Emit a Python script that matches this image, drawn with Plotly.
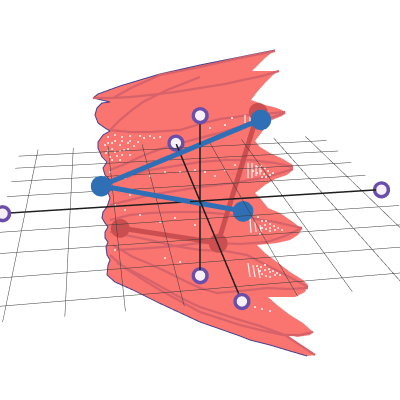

import plotly.graph_objects as go, numpy as np

# ground grid and axes, in data units
axis_half_x = 2.02
axis_half_y = 1.59
axis_lean = 0.08
z_top, z_bottom = 0.95, -1.0
grid_steps = [-4, -3, -2, -1, 0, 1, 2, 3, 4]

# blue polyline and markers, in data units
blue_x = [0.60, -1.01, 0.47]
blue_y = [0.0, 0.0, 0.0]
blue_z = [0.88, 0.25, -0.16]

# the surface and what lies on it, read on a sheet facing the viewer
surface_u = [-107,-102,-80,-40,0,40,75,65,52,79,73,65,57,51,57,65,77,86,82,72,65,58,55,60,70,83,93,93,87,75,65,55,60,68,80,93,102,98,90,77,57,65,77,90,103,108,105,95,80,68,77,90,103,113,110,97,85,95,105,115,107,90,70,50,40,0,-43,-67,-85,-93,-92,-90,-93,-94,-92,-95,-95,-92,-95,-98,-97,-93,-90,-94,-90,-95,-97,-93,-98,-102,-102,-97,-90,-95,-102,-105,-103,-98,-90]
surface_v = [103,107,115,127,136,144,151,143,130,130,126,118,109,101,99,96,93,89,85,81,73,64,60,54,48,42,36,31,26,22,16,8,3,-7,-12,-21,-28,-34,-39,-42,-44,-52,-61,-71,-79,-84,-91,-96,-96,-96,-104,-114,-122,-131,-134,-136,-133,-141,-147,-154,-155,-150,-144,-139,-135,-121,-101,-89,-81,-74,-64,-59,-54,-46,-41,-37,-31,-26,-22,-17,-11,-6,3,14,21,26,33,39,44,53,59,66,70,73,78,86,93,98,99]
bands_u = [
 [-107,-87,-70,-50,-25,0,25,43,62,79],
 [-87,-67,-40,0,40,75],
 [-90,-80,-68,-57,-45,-33,-15,0],
 [-90,-70,-50,-20,0,20,50,85],
 [85,70,53,23,0,-27,-45,-60,-75,-90],
 [93,75,50,25,0,-25,-50,-70,-90],
 [93,80,67,33,0,-25,-50,-70,-90],
 [-90,-70,-50,-25,0,25,50,75,102],
 [102,85,67,40,17,0,-25,-50,-83],
 [108,78,47,25,0,-25,-50,-70,-90],
 [108,88,67,40,17,0,-15,-33,-50,-67,-87],
 [113,100,83,60,40,0,-20,-40,-58,-75,-90],
 [115,100,85,60,40,0,-17,-33,-60,-83],
]
bands_v = [
 [103,103,104,106,109,113,117,121,125,130],
 [103,114,126,134,143,150],
 [71,81,91,99,105,111,118,124],
 [71,69,69,71,77,82,86,89],
 [88,83,78,69,63,56,50,44,37,31],
 [34,38,41,41,39,35,31,25,18],
 [32,28,24,18,14,10,6,1,-4],
 [-19,-14,-12,-11,-11,-13,-17,-21,-27],
 [-27,-35,-41,-43,-42,-42,-45,-47,-49],
 [-86,-70,-54,-50,-49,-45,-39,-35,-31],
 [-87,-88,-87,-90,-92,-87,-80,-71,-63,-56,-44],
 [-131,-134,-134,-129,-124,-111,-100,-89,-78,-67,-54],
 [-154,-144,-134,-125,-119,-106,-98,-89,-74,-62],
]
stripes_u = [[45,45],[50,50],[48,48],[52,52],[56,56],[60,60],[50,51],[55,56],[60,61],[48,50],[53,55],[58,60]]
stripes_v = [[86,78],[86,78],[38,23],[38,23],[36,25],[34,26],[-17,-32],[-21,-31],[-24,-31],[-62,-76],[-64,-76],[-67,-77]]
specks_u = [-92,-85,-78,-70,-60,-50,-95,-88,-80,-72,-62,-94,-85,-76,-88,-80,-90,-83,-75,-65,-50,-35,-20,-5,-88,-80,-70,-85,-75,-60,-40,-25,-5,-35,-20,-85,5,15,25,35,40,65,70,75,65,70,75,55,62,70,25,10,32,
 53,57,61,64,68,57,61,65,70,73,62,66,58,62,66,70,74,62,66,70,78,82,60,57,61,65,69,73,62,66,70,77,80,60,-92,-85,-78,-70,-92,-88,-80,-72,-66,-90,-83,-78,-70,-56,-46,-40]
specks_v = [64,66,64,65,65,65,56,58,56,58,59,48,49,51,41,41,29,21,23,31,25,29,29,31,13,11,6,-4,-9,-14,-21,-17,-24,-57,-61,-49,29,25,31,36,26,-24,-27,-29,-69,-71,-74,-106,-108,-110,76,73,83,
 30,28,30,27,30,34,35,33,26,28,24,24,-16,-20,-20,-23,-25,-27,-28,-30,-27,-29,-33,-65,-66,-64,-68,-70,-73,-75,-76,-72,-74,-70,58,60,60,60,50,52,50,52,55,44,45,46,46,63,63,64]
red_u = [58, 18, -80]
red_v = [89, -42, -27]

eye = np.array([-0.069, -0.547, 0.318])
E = eye * 8
D = np.linalg.norm(E)
w = E / D
r = np.cross([0, 0, 1], w); r /= np.linalg.norm(r)
up = np.cross(w, r)
f = 482.8 * 398 / 400

def sheet(u, v, d):
    s = (D + d) / f
    p = [s * (a * r + b * up) - d * w for a, b in zip(u, v)]
    return [q[0] for q in p], [q[1] for q in p], [q[2] for q in p]

def ear_clip(u, v):
    idx = list(range(len(u)))
    area = sum(u[i]*v[(i+1)%len(u)] - u[(i+1)%len(u)]*v[i] for i in range(len(u)))
    sign = 1 if area > 0 else -1
    cr = lambda a, b, c: sign*((u[b]-u[a])*(v[c]-v[a]) - (v[b]-v[a])*(u[c]-u[a]))
    tris = []
    while len(idx) > 3:
        for n in range(len(idx)):
            a, b, c = idx[n-1], idx[n], idx[(n+1) % len(idx)]
            if cr(a, b, c) <= 0:
                continue
            if any(cr(a, b, p) >= 0 and cr(b, c, p) >= 0 and cr(c, a, p) >= 0
                   for p in idx if p not in (a, b, c)):
                continue
            tris.append((a, b, c))
            idx.pop(n)
            break
        else:
            break
    if len(idx) == 3:
        tris.append(tuple(idx))
    return tris

fig = go.Figure()

# surface
sx, sy, sz = sheet(surface_u, surface_v, 1.7)
tri = ear_clip(surface_u, surface_v)
fig.add_trace(go.Mesh3d(x=sx, y=sy, z=sz, i=[t[0] for t in tri], j=[t[1] for t in tri], k=[t[2] for t in tri],
    color='#fa7470', opacity=1, flatshading=True, hoverinfo='skip',
    lighting=dict(ambient=1, diffuse=0, specular=0, fresnel=0, roughness=1)))

# navy rim on top, bottom and left edges
rim_start = surface_v.index(-155)
for ru, rv in ((surface_u[:7], surface_v[:7]), (surface_u[rim_start:] + surface_u[:1], surface_v[rim_start:] + surface_v[:1])):
    x, y, z = sheet(ru, rv, 1.69)
    fig.add_trace(go.Scatter3d(x=x, y=y, z=z, mode='lines', line=dict(color='#4a3f8c', width=2)))

# darker folds
for bu, bv in zip(bands_u, bands_v):
    x, y, z = sheet(bu, bv, 1.68)
    fig.add_trace(go.Scatter3d(x=x, y=y, z=z, mode='lines', line=dict(color='#d8626a', width=4.5)))

# white gaps
for su, sv in zip(stripes_u, stripes_v):
    x, y, z = sheet(su, sv, 1.67)
    fig.add_trace(go.Scatter3d(x=x, y=y, z=z, mode='lines', line=dict(color='#fdeaea', width=2.5)))
x, y, z = sheet(specks_u, specks_v, 1.67)
fig.add_trace(go.Scatter3d(x=x, y=y, z=z, mode='markers', marker=dict(size=1.2, color='#fde4e4')))

# red polyline
x, y, z = sheet(red_u, red_v, 1.66)
fig.add_trace(go.Scatter3d(x=x, y=y, z=z, mode='lines+markers', line=dict(color='#cb4f50', width=10),
    marker=dict(size=11, color='#cb4f50')))

# grid
g = axis_half_x / 4.5
gy = axis_half_y / 4.5
lean_end = axis_lean * axis_half_y
gxs, gys, gzs = [], [], []
for i in grid_steps:
    t, q = i * g, i * gy
    gxs += [t + lean_end, t - lean_end, None]; gys += [-axis_half_y, axis_half_y, None]; gzs += [0, 0, None]
    gxs += [-axis_half_x - axis_lean * q, axis_half_x - axis_lean * q, None]; gys += [q, q, None]; gzs += [0, 0, None]
fig.add_trace(go.Scatter3d(x=gxs, y=gys, z=gzs, mode='lines', line=dict(color='#3a3a3a', width=1)))

# axes
end_x = [-axis_half_x, axis_half_x, lean_end, -lean_end, 0, 0]
end_y = [0, 0, -axis_half_y, axis_half_y, 0, 0]
end_z = [0, 0, 0, 0, z_bottom, z_top]
for n in (0, 2, 4):
    fig.add_trace(go.Scatter3d(x=end_x[n:n+2], y=end_y[n:n+2], z=end_z[n:n+2], mode='lines',
        line=dict(color='#1c1c1c', width=3)))
fig.add_trace(go.Scatter3d(x=end_x, y=end_y, z=end_z, mode='markers', marker=dict(size=10, color='#6a4eaa')))
# the white centre sits a little nearer the eye, on the same sight line
toward = [(E - np.array(p)) / np.linalg.norm(E - np.array(p)) * 0.04 for p in zip(end_x, end_y, end_z)]
hx = [a + t[0] for a, t in zip(end_x, toward)]
hy = [a + t[1] for a, t in zip(end_y, toward)]
hz = [a + t[2] for a, t in zip(end_z, toward)]
fig.add_trace(go.Scatter3d(x=hx, y=hy, z=hz, mode='markers', marker=dict(size=6, color='#f5f0f8')))

# blue polyline
fig.add_trace(go.Scatter3d(x=blue_x, y=blue_y, z=blue_z, mode='lines+markers', line=dict(color='#2f6fb5', width=10),
    marker=dict(size=12, color='#2f6fb5')))

fig.update_traces(hoverinfo='skip')
fig.update_layout(width=400, height=400, margin=dict(l=0, r=0, t=2, b=0), showlegend=False, paper_bgcolor='white',
    scene=dict(xaxis=dict(visible=False, range=[-4, 4]), yaxis=dict(visible=False, range=[-4, 4]), zaxis=dict(visible=False, range=[-4, 4]),
        aspectmode='manual', aspectratio=dict(x=1, y=1, z=1),
        camera=dict(eye=dict(x=eye[0], y=eye[1], z=eye[2]), center=dict(x=0, y=0, z=0), up=dict(x=0, y=0, z=1))))
fig.write_html("out.html", config=dict(displayModeBar=False), post_script="document.body.style.margin='0';")
